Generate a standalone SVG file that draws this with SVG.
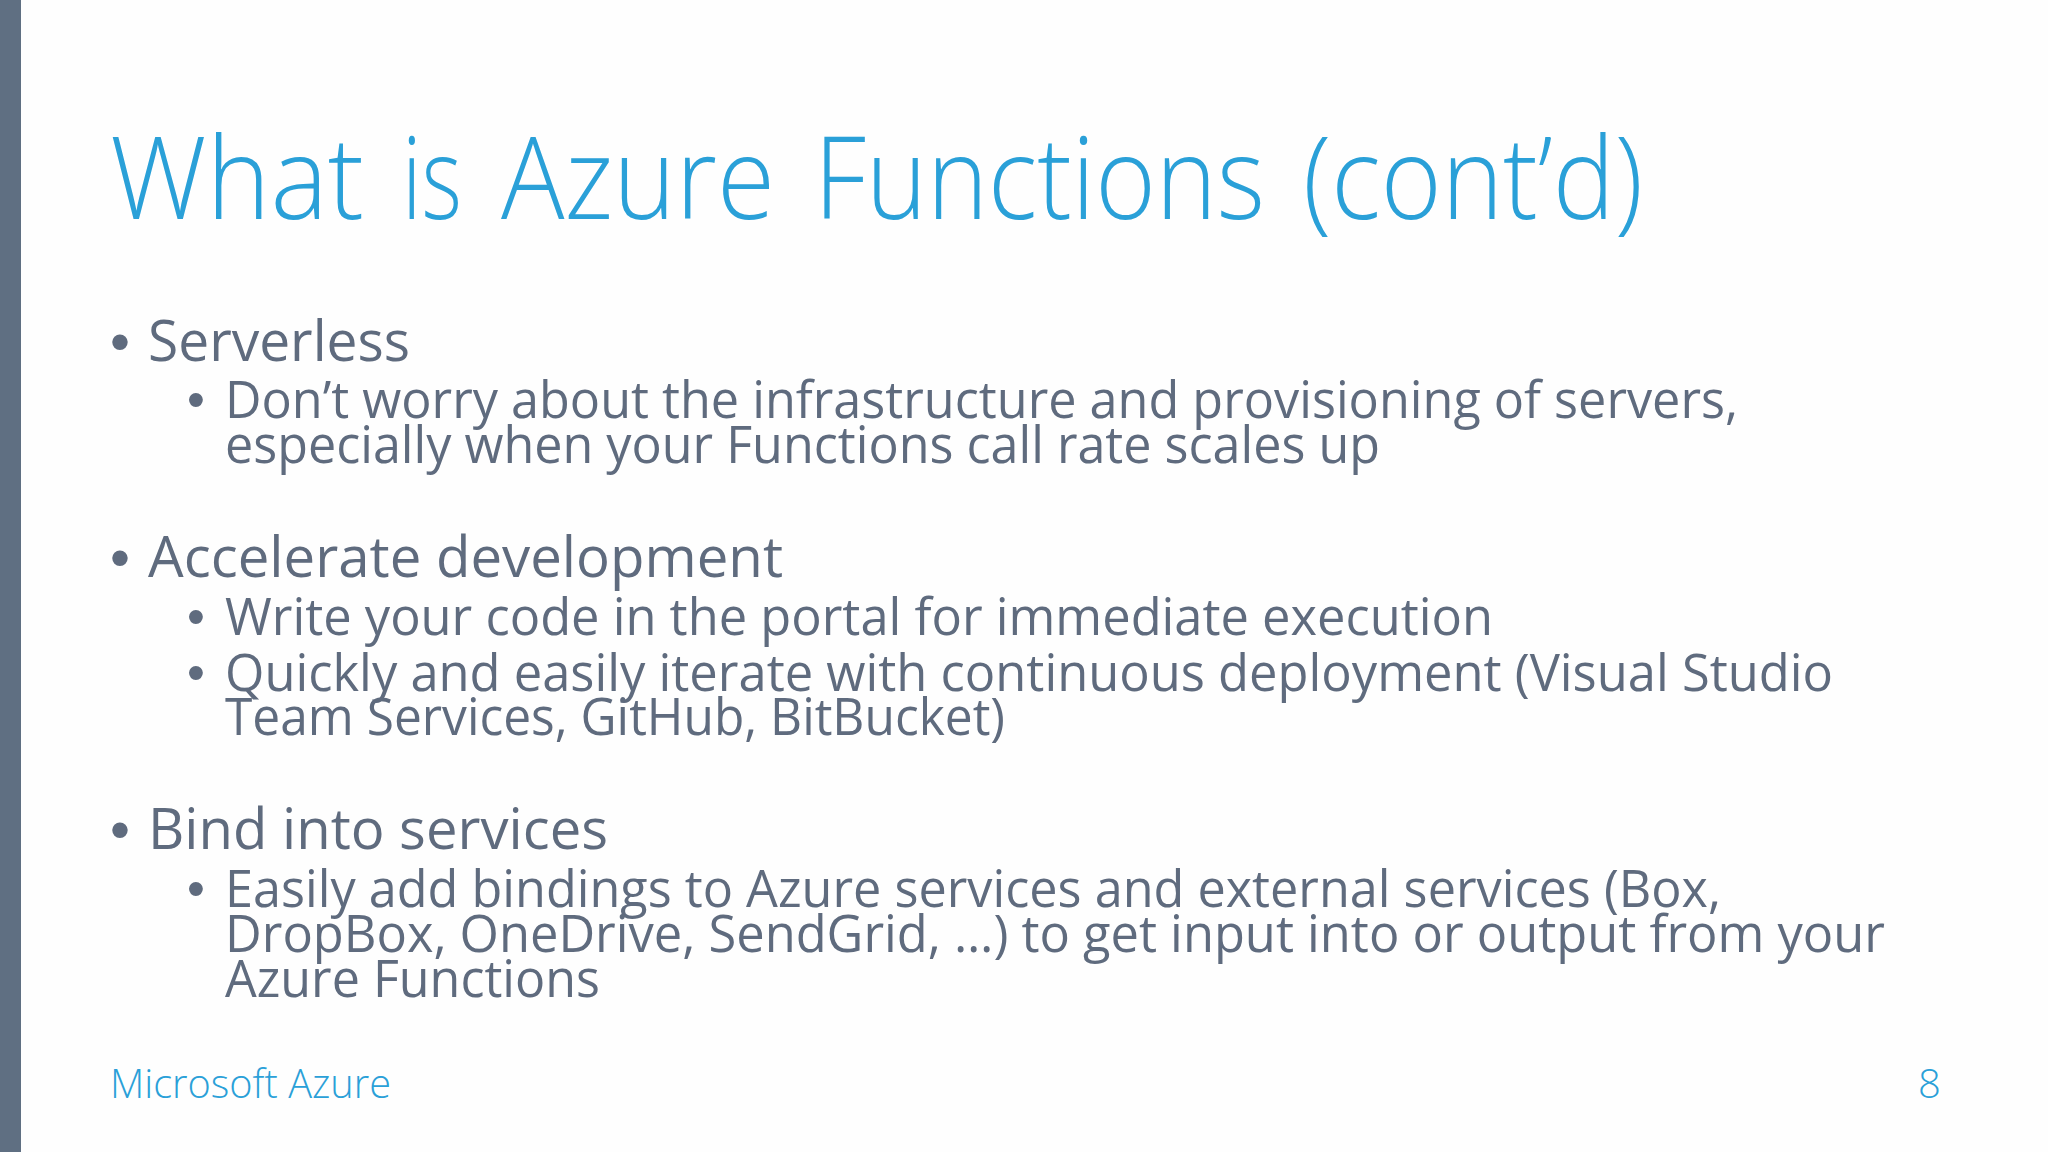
<svg xmlns="http://www.w3.org/2000/svg" width="2048" height="1152" viewBox="0 0 2048 1152">
<style>
text{font-family:"Open Sans","Noto Sans","Liberation Sans",sans-serif}
.t{fill:#2aa0d8;font-size:114px;font-weight:300}
.l1{fill:#5f6b7e;font-size:57px}
.l2{fill:#5f6b7e;font-size:51px}
.b{font-family:"Liberation Sans",sans-serif;text-anchor:middle}
.f{fill:#2aa0d8;font-size:40px;font-weight:300}
</style>
<rect width="2048" height="1152" fill="#fefefe"/>
<rect width="21" height="1152" fill="#5f6f82"/>
<text class="t" y="219"><tspan x="110" textLength="254" lengthAdjust="spacingAndGlyphs">What</tspan> <tspan x="402" textLength="60" lengthAdjust="spacingAndGlyphs">is</tspan> <tspan x="501" textLength="274" lengthAdjust="spacingAndGlyphs">Azure</tspan> <tspan x="814" textLength="451" lengthAdjust="spacingAndGlyphs">Functions</tspan> <tspan x="1303" textLength="340" lengthAdjust="spacingAndGlyphs">(cont’d)</tspan></text>
<text class="l1 b" x="120" y="361">•</text><text class="l1" x="148" y="361" textLength="262" lengthAdjust="spacingAndGlyphs">Serverless</text>
<text class="l2 b" x="196" y="417">•</text><text class="l2" x="225" y="418" textLength="1513" lengthAdjust="spacingAndGlyphs">Don’t worry about the infrastructure and provisioning of servers,</text>
<text class="l2" x="225" y="463" textLength="1155" lengthAdjust="spacingAndGlyphs">especially when your Functions call rate scales up</text>
<text class="l1 b" x="120" y="577">•</text><text class="l1" x="148" y="577" textLength="635" lengthAdjust="spacingAndGlyphs">Accelerate development</text>
<text class="l2 b" x="196" y="634">•</text><text class="l2" x="225" y="635" textLength="1268" lengthAdjust="spacingAndGlyphs">Write your code in the portal for immediate execution</text>
<text class="l2 b" x="196" y="690">•</text><text class="l2" x="225" y="691" textLength="1608" lengthAdjust="spacingAndGlyphs">Quickly and easily iterate with continuous deployment (Visual Studio</text>
<text class="l2" x="225" y="735" textLength="780" lengthAdjust="spacingAndGlyphs">Team Services, GitHub, BitBucket)</text>
<text class="l1 b" x="120" y="849">•</text><text class="l1" x="148" y="849" textLength="460" lengthAdjust="spacingAndGlyphs">Bind into services</text>
<text class="l2 b" x="196" y="906">•</text><text class="l2" x="225" y="907" textLength="1496" lengthAdjust="spacingAndGlyphs">Easily add bindings to Azure services and external services (Box,</text>
<text class="l2" x="225" y="952" textLength="1660" lengthAdjust="spacingAndGlyphs">DropBox, OneDrive, SendGrid, …) to get input into or output from your</text>
<text class="l2" x="225" y="997" textLength="375" lengthAdjust="spacingAndGlyphs">Azure Functions</text>
<text class="f" x="110" y="1098" textLength="281" lengthAdjust="spacingAndGlyphs">Microsoft Azure</text>
<text class="f" x="1918" y="1098">8</text>
</svg>
